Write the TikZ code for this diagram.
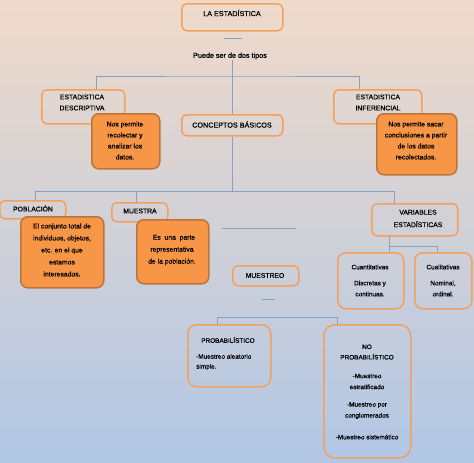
\documentclass[tikz,border=0pt]{standalone}
\usepackage{fontspec}
\setmainfont{Liberation Sans}[FakeBold=0.7]
\definecolor{bgtop}{RGB}{239,218,202}
\definecolor{bgbot}{RGB}{177,199,229}
\definecolor{boxor}{RGB}{244,160,92}
\definecolor{boxfill}{RGB}{247,150,70}
\definecolor{boxdk}{RGB}{186,118,58}
\definecolor{lnblue}{RGB}{135,160,198}
\begin{document}
\begin{tikzpicture}[x=1pt,y=-1pt,
  lbox/.style={draw=boxor, line width=1.5pt, rounded corners=5pt, anchor=north west, inner sep=0pt},
  obox/.style={draw=boxdk, fill=boxfill, line width=1.5pt, rounded corners=7pt, anchor=north west, inner sep=0pt},
  txt/.style={font=\fontsize{6.8}{11}\selectfont, align=center, inner sep=0pt, text=black},
  big/.style={font=\fontsize{7.2}{11}\selectfont, inner sep=0pt, text=black},
  sml/.style={font=\fontsize{6.4}{11}\selectfont, align=center, inner sep=0pt, text=black},
  conn/.style={draw=lnblue, line width=0.9pt}]
% background
\fill[top color=bgtop, bottom color=bgbot] (0,0) rectangle (474,463);
\useasboundingbox (0,0) rectangle (474,463);

% light boxes
\node[lbox, minimum width=101pt, minimum height=27pt] (top) at (181,3) {};
\node[lbox, minimum width=83pt, minimum height=34pt] (desc) at (41,89) {};
\node[lbox, minimum width=101pt, minimum height=21pt] (conc) at (181,114) {};
\node[lbox, minimum width=88pt, minimum height=34pt] (infe) at (333,89) {};
\node[lbox, minimum width=66pt, minimum height=18pt] (pobl) at (-1,200) {};
\node[lbox, minimum width=56pt, minimum height=19pt] (mues) at (111,202) {};
\node[lbox, minimum width=66pt, minimum height=20pt] (mtreo) at (232,265) {};
\node[lbox, minimum width=86pt, minimum height=32pt] (vars) at (371,203) {};
\node[lbox, minimum width=66pt, minimum height=56pt, rounded corners=8pt] (cuan) at (337,252) {};
\node[lbox, minimum width=57pt, minimum height=56pt, rounded corners=8pt] (cual) at (414,252) {};
\node[lbox, minimum width=83pt, minimum height=62pt, rounded corners=9pt] (prob) at (187,324) {};
\node[lbox, minimum width=87pt, minimum height=133pt, rounded corners=11pt] (noprob) at (323,324) {};

% filled boxes
\node[obox, minimum width=68pt, minimum height=55pt] (nos1) at (91,113) {};
\node[obox, minimum width=80pt, minimum height=61pt] (nos2) at (376,113) {};
\node[obox, minimum width=83pt, minimum height=71pt] (conj) at (20,216) {};
\node[obox, minimum width=72pt, minimum height=64pt] (parte) at (136,219) {};

% texts
\node[big] (ttop) at (232,13) {LA ESTADÍSTICA};
\node[big] (puede) at (230,56) {Puede ser de dos tipos};
\node[txt] (tdesc) at (82,102.5) {ESTADISTICA\\DESCRIPTIVA};
\node[big] (tconc) at (232,124.5) {CONCEPTOS BÁSICOS};
\node[txt] (tinfe) at (378,102.5) {ESTADISTICA\\INFERENCIAL};
\node[txt] (tnos1) at (125,140.5) {Nos permite\\recolectar y\\analizar los\\datos.};
\node[txt] (tnos2) at (416,140.5) {Nos permite sacar\\conclusiones a partir\\de los datos\\recolectados.};
\node[txt] (tpobl) at (33,208.5) {POBLACIÓN};
\node[txt, font=\fontsize{6.8}{12}\selectfont] (tconj) at (62,250) {El conjunto total de\\individuos, objetos,\\etc. en el que\\estamos\\interesados.};
\node[txt] (tmues) at (140,211) {MUESTRA};
\node[txt, font=\fontsize{6.8}{12}\selectfont] (tparte) at (172,250) {\hspace*{4pt}Es\ \ una\ \ parte\\representativa\\de la población.};
\node[txt] (tmtreo) at (265,275.5) {MUESTREO};
\node[txt, font=\fontsize{6.8}{12.5}\selectfont] (tvars) at (418,218.5) {VARIABLES\\ESTADÍSTICAS};
\node[sml] (tcuan1) at (370,267) {Cuantitativas};
\node[sml] (tcuan2) at (370,288.5) {Discretas y\\continuas.};
\node[sml] (tcual1) at (443,267) {Cualitativas};
\node[sml] (tcual2) at (443,288.5) {Nominal,\\ordinal.};
\node[sml] (tprob1) at (228,340) {PROBABILÍSTICO};
\node[sml, align=left, anchor=west, font=\fontsize{6.4}{10}\selectfont] (tprob2) at (196,362) {-Muestreo aleatorio\\simple.};
\node[sml, font=\fontsize{6.4}{10.5}\selectfont] (tnp1) at (367,352) {NO\\PROBABILÍSTICO};
\node[sml, font=\fontsize{6.4}{11}\selectfont] (tnp2) at (367,381.5) {-Muestreo\\estratificado};
\node[sml, font=\fontsize{6.4}{11}\selectfont] (tnp3) at (367,410.5) {-Muestreo por\\conglomerados};
\node[sml] (tnp4) at (367,437) {-Muestreo sistemático};

% connectors
\coordinate (s1a) at (224,38); \coordinate (s1b) at (242,38);
\draw[conn] (s1a) -- (s1b);
\coordinate (j1) at (232,76);
\draw[conn] (puede.south -| j1) -- (j1);
\draw[conn] (j1) -- (conc.north -| j1);
\draw[conn] (desc.north -| 96,0) |- (j1) -| (infe.north -| 359,0);
\coordinate (j2) at (232,191);
\draw[conn] (conc.south -| j2) -- (j2);
\draw[conn] (pobl.north -| 35,0) |- (j2);
\draw[conn] (j2) -| (vars.north -| 394,0);
\draw[conn] (mues.north -| 136,0) -- (136,191);
\coordinate (s2a) at (222,228); \coordinate (s2b) at (296,228);
\draw[conn] (s2a) -- (s2b);
\coordinate (s3a) at (262,299); \coordinate (s3b) at (275,299);
\draw[conn] (s3a) -- (s3b);
\draw[conn] (prob.north -| 217,0) |- (337,317) -- (noprob.north -| 337,0);
\draw[conn] (vars.south -| 389,0) -- (cuan.north -| 389,0);
\draw[conn] (389,246) -| (cual.north -| 437,0);
\end{tikzpicture}
\end{document}
